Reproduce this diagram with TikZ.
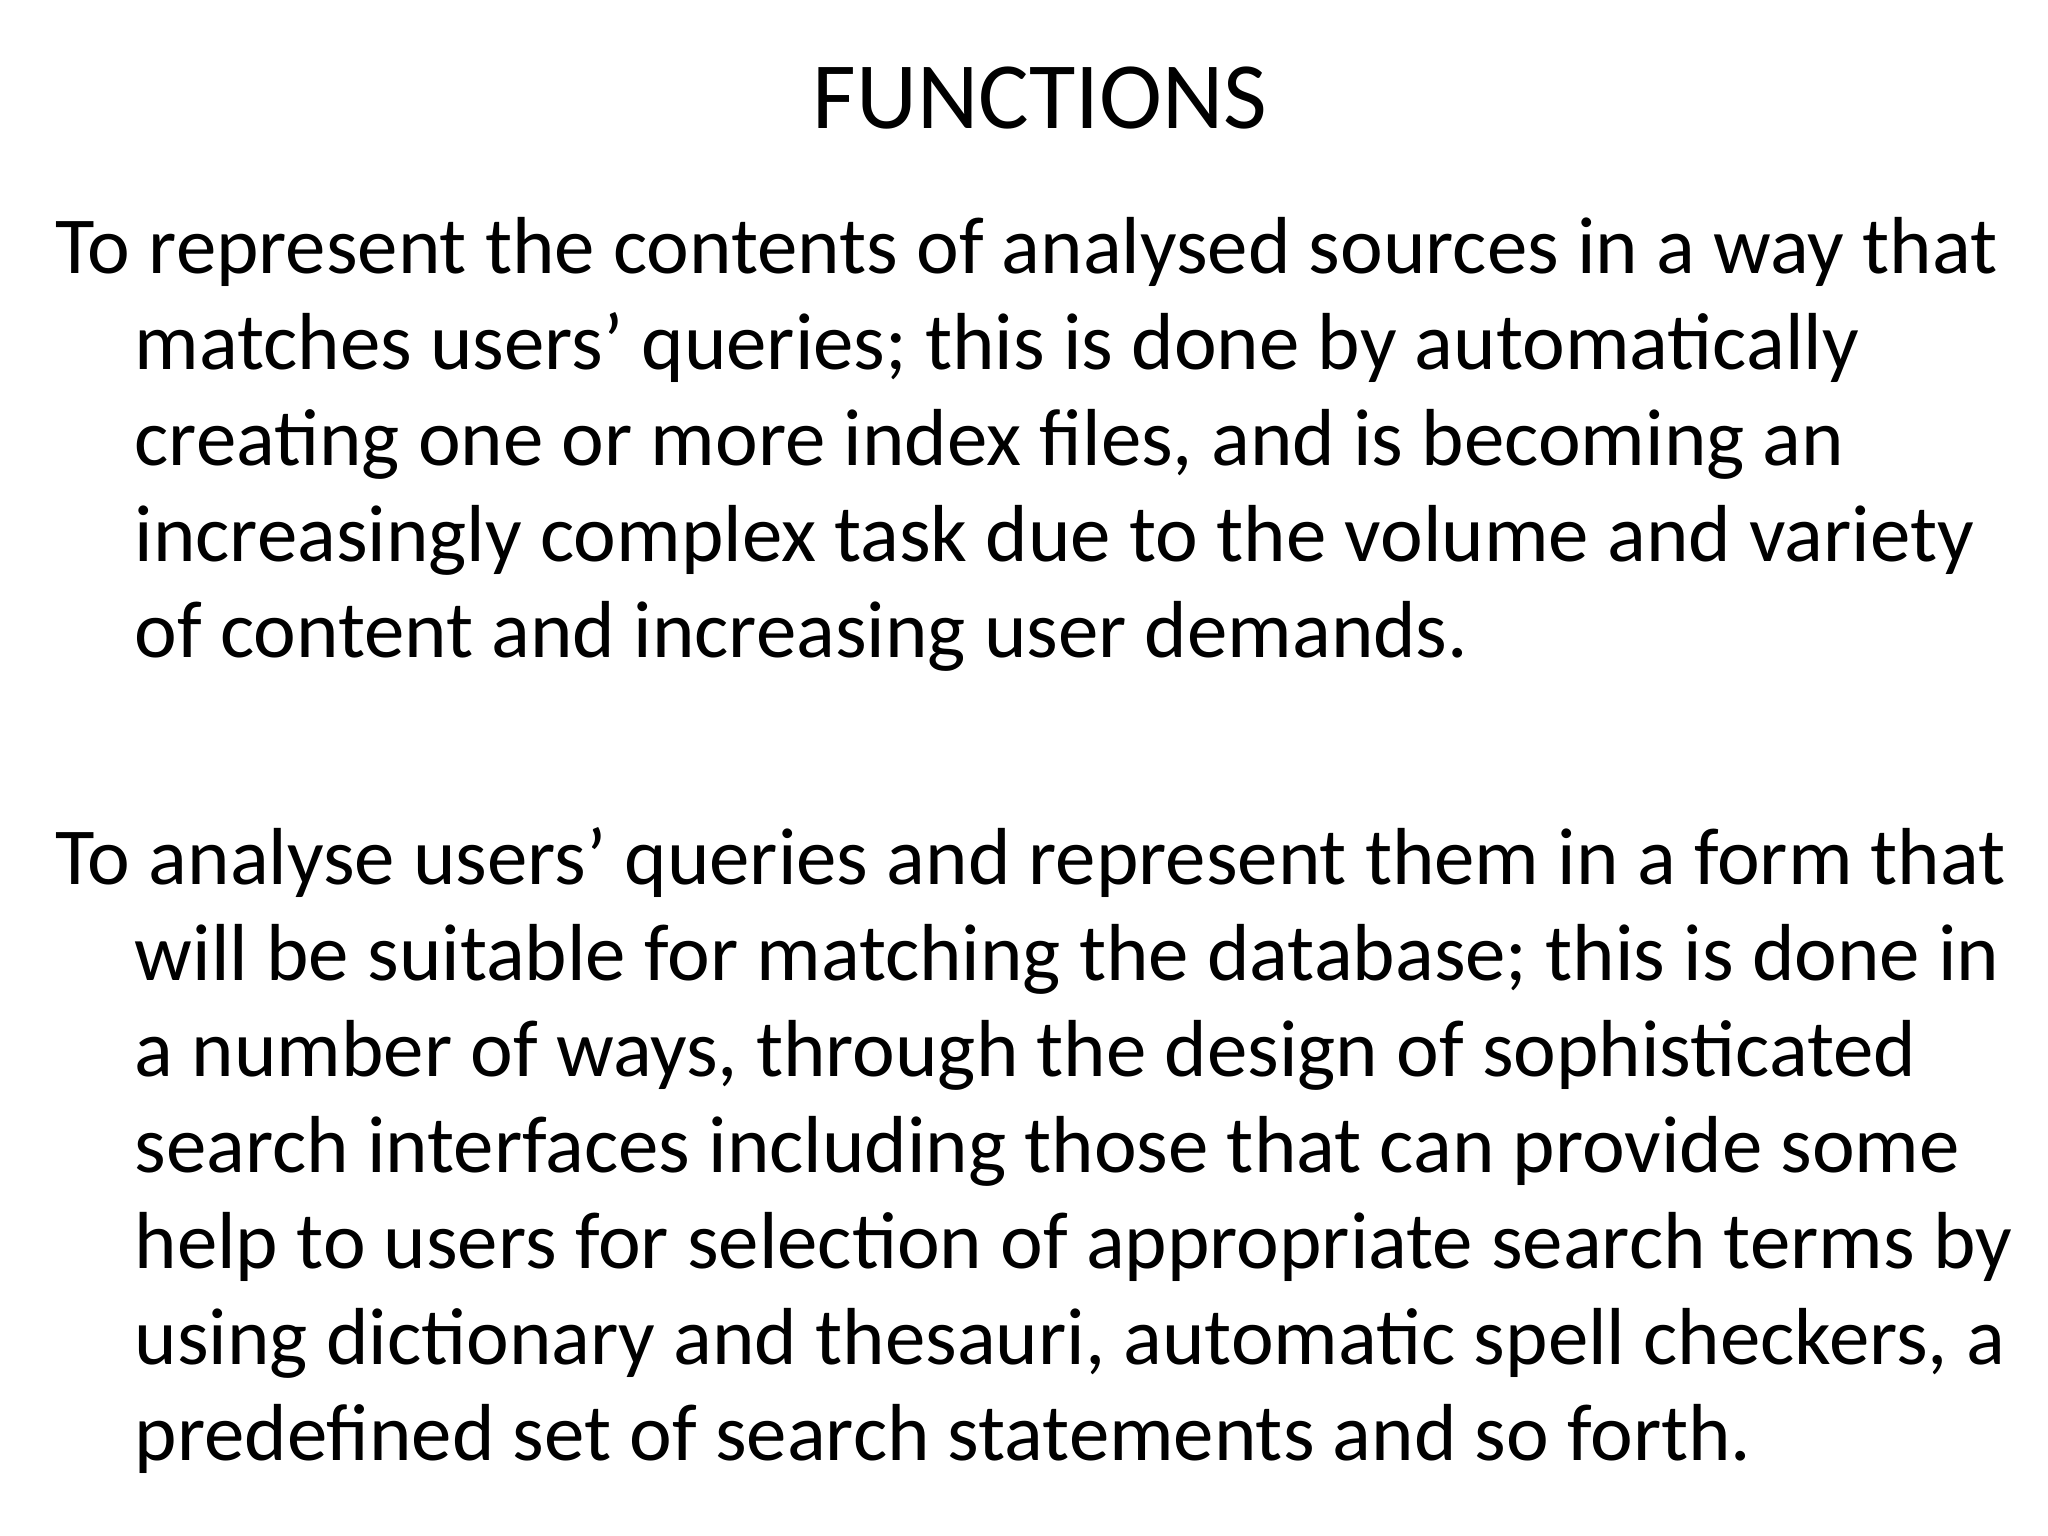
\documentclass[tikz,border=0pt]{standalone}
\usepackage{fontspec}
\setmainfont{Carlito}
\begin{document}
\begin{tikzpicture}[x=0.01cm,y=-0.01cm,
  body/.style={anchor=base west,inner sep=0pt,font=\fontsize{23}{28}\selectfont},
  ttl/.style={anchor=base,inner sep=0pt,font=\fontsize{27}{32}\selectfont}]
\useasboundingbox (0,0) rectangle (2048,1536);
\node[ttl] (t) at (1040,128) {FUNCTIONS};
\node[body] (a1) at (55,273) {To represent the contents of analysed sources in a way that};
\node[body] (a2) at (134,369) {matches users’ queries; this is done by automatically};
\node[body] (a3) at (134,465) {creating one or more index files, and is becoming an};
\node[body] (a4) at (134,561) {increasingly complex task due to the volume and variety};
\node[body] (a5) at (134,657) {of content and increasing user demands.};
\node[body] (b1) at (55,884) {To analyse users’ queries and represent them in a form that};
\node[body] (b2) at (134,980) {will be suitable for matching the database; this is done in};
\node[body] (b3) at (134,1076) {a number of ways, through the design of sophisticated};
\node[body] (b4) at (134,1172) {search interfaces including those that can provide some};
\node[body] (b5) at (134,1268) {help to users for selection of appropriate search terms by};
\node[body] (b6) at (134,1364) {using dictionary and thesauri, automatic spell checkers, a};
\node[body] (b7) at (134,1460) {predefined set of search statements and so forth.};
\end{tikzpicture}
\end{document}
